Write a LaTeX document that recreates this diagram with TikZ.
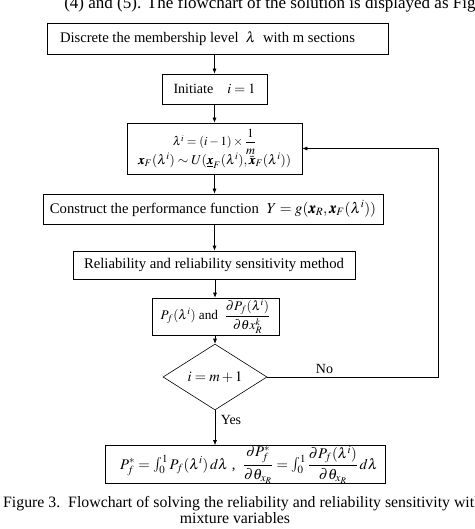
\documentclass[tikz,border=0pt]{standalone}
\usepackage{amsmath}
\usepackage{mathptmx}
\usepackage{bm}
\usepackage{fontspec}
\setmainfont{Liberation Serif}
\usetikzlibrary{shapes.geometric,arrows.meta}
\newlength\fitlen
\newcommand\fitto[2]{%
  \settowidth\fitlen{\fontsize{10}{12}\selectfont #2}%
  \pgfmathsetmacro\fitfs{10*#1/\fitlen}%
  {\fontsize{\fitfs}{\fitfs}\selectfont #2}}
\newcommand\capsize{%
  \settowidth\fitlen{\fontsize{10}{12}\selectfont Figure 3.\ \ Flowchart of solving the reliability and reliability sensitivity wit}%
  \pgfmathsetmacro\capfs{10*471/\fitlen}%
  \fontsize{\capfs}{\capfs}\selectfont}
\begin{document}
\begin{tikzpicture}[x=1pt,y=-1pt,
  box/.style={draw, line width=0.6pt, inner sep=0pt},
  arr/.style={draw, line width=0.6pt, -{Latex[length=5pt,width=4pt]}},
  lbl/.style={font=\fontsize{14}{16}\selectfont}]
\useasboundingbox (0,0) rectangle (474,529);
\begin{scope}
\clip (0,0) rectangle (474,529);
\node[anchor=base east, font=\fontsize{17}{19}\selectfont, inner sep=0pt] (top) at (480,9) {(4) and (5). The flowchart of the solution is displayed as Fig.};
\node[anchor=base west, font=\capsize, inner sep=0pt] (cap1) at (3,507) {Figure 3.\ \ Flowchart of solving the reliability and reliability sensitivity with};
\end{scope}
\node[anchor=base, font=\capsize, inner sep=0pt] (cap2) at (235,523) {mixture variables};

\node[box, minimum width=341pt, minimum height=31pt] (b1) at (217.5,38.5) {\fitto{295}{Discrete the membership level\ \ $\lambda$\ \ with m sections}\hspace*{20pt}};
\node[box, minimum width=105pt, minimum height=30pt] (b2) at (214.5,89) {\fitto{82}{Initiate\quad $i=1$}};
\node[box, minimum width=175pt, minimum height=51pt, align=center] (b3) at (214.5,148.5)
  {\fitto{84}{$\lambda^{i}=(i-1)\times\dfrac{1}{m}$}\\[-2pt] \fitto{154}{$\bm{x}_F(\lambda^{i})\sim U(\underline{\bm{x}}_F(\lambda^{i}),\bar{\bm{x}}_F(\lambda^{i}))$}};
\node[box, minimum width=340pt, minimum height=30pt] (b4) at (213,209) {\fitto{209}{Construct the performance function}\hspace{8pt}\fitto{110}{$Y=g(\bm{x}_R,\bm{x}_F(\lambda^{i}))$}};
\node[box, minimum width=282pt, minimum height=28pt] (b5) at (214,265) {\fitto{260}{Reliability and reliability sensitivity method}};
\node[box, minimum width=127pt, minimum height=37pt] (b6) at (215.5,316.5) {\fitto{111}{$P_f(\lambda^{i})$ and\ \ $\dfrac{\partial P_f(\lambda^{i})}{\partial\theta x_{R}^{k}}$}};
\node[box, diamond, minimum width=104pt, minimum height=38pt] (d) at (215,377) {\fitto{55}{$i=m+1$}};
\node[box, line width=1pt, minimum width=280pt, minimum height=35pt] (fin) at (245,464.5)
  {\hspace*{8pt}\fitto{262}{$P_f^{*}=\int_0^1 P_f(\lambda^{i})\,d\lambda$\ ,\ \ $\dfrac{\partial P_f^{*}}{\partial\theta_{x_R}}=\int_0^1\dfrac{\partial P_f(\lambda^{i})}{\partial\theta_{x_R}}\,d\lambda$}};

\coordinate (c1) at (438,377);
\draw[arr] (b2.north |- b1.south) -- (b2.north);
\draw[arr] (b2) -- (b3);
\draw[arr] (b3.south) -- (b3.south |- b4.north);
\draw[arr] (b3.south |- b4.south) -- (b3.south |- b5.north);
\draw[arr] (d.north |- b5.south) -- (d.north |- b6.north);
\draw[arr] (d.north |- b6.south) -- (d.north);
\draw[arr] (d.south) -- (d.south |- fin.north);
\draw[arr] (d.east) -- (c1) |- (b3.east);
\node[lbl] (no) at (324.5,369) {No};
\node[lbl] (yes) at (231,420) {Yes};
\end{tikzpicture}
\end{document}
